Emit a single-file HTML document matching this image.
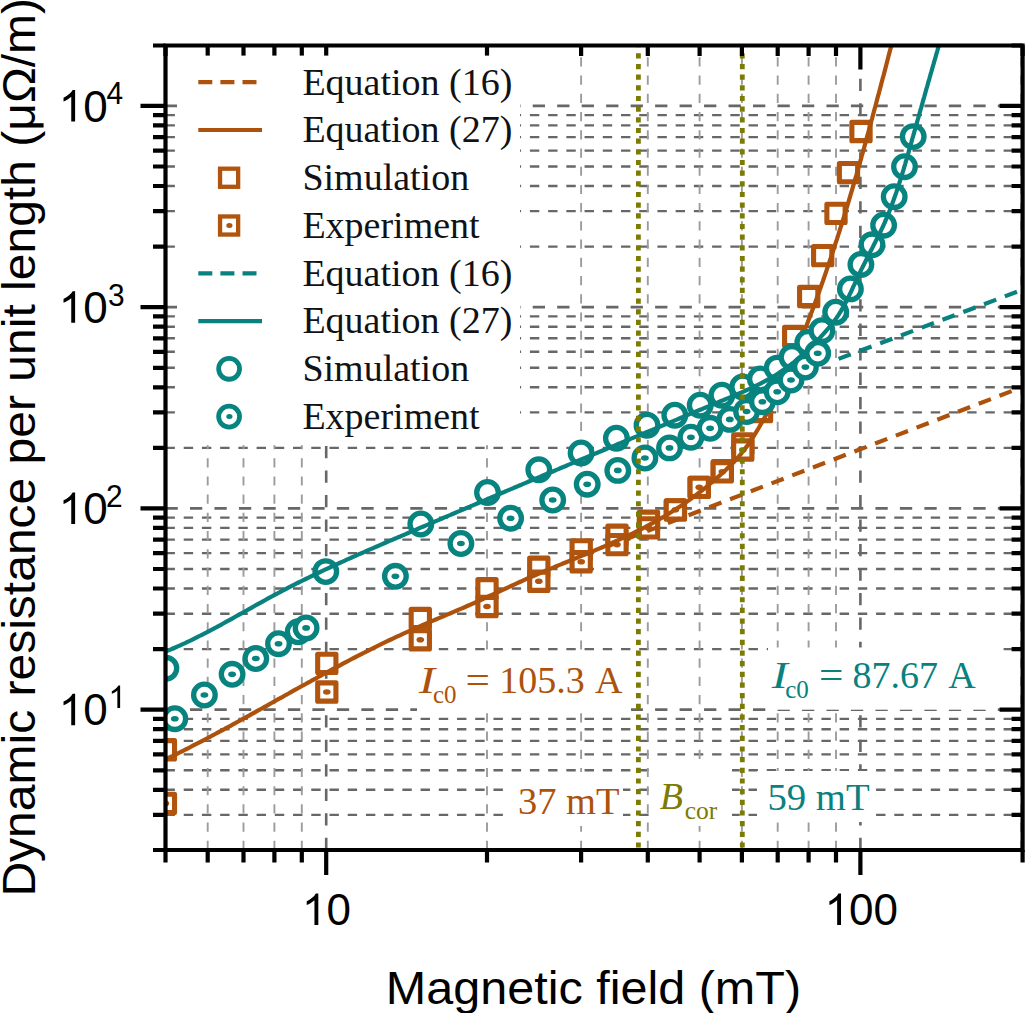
<!DOCTYPE html><html><head><meta charset="utf-8"><style>html,body{margin:0;padding:0;background:#fff;overflow:hidden}svg{display:block}</style></head><body>
<svg width="1025" height="1013" viewBox="0 0 1025 1013">
<defs><clipPath id="pc"><rect x="165.5" y="45.5" width="857.1" height="804.5"/></clipPath></defs>
<rect width="1025" height="1013" fill="#fff"/>
<g clip-path="url(#pc)" fill="none">
<line x1="165.5" y1="814.9" x2="1022.6" y2="814.9" stroke="#676767" stroke-width="2.4" stroke-dasharray="9.4 8.82"/>
<line x1="165.5" y1="789.8" x2="1022.6" y2="789.8" stroke="#676767" stroke-width="2.4" stroke-dasharray="9.4 8.82"/>
<line x1="165.5" y1="770.3" x2="1022.6" y2="770.3" stroke="#676767" stroke-width="2.4" stroke-dasharray="9.4 8.82"/>
<line x1="165.5" y1="754.4" x2="1022.6" y2="754.4" stroke="#676767" stroke-width="2.4" stroke-dasharray="9.4 8.82"/>
<line x1="165.5" y1="740.9" x2="1022.6" y2="740.9" stroke="#676767" stroke-width="2.4" stroke-dasharray="9.4 8.82"/>
<line x1="165.5" y1="729.2" x2="1022.6" y2="729.2" stroke="#676767" stroke-width="2.4" stroke-dasharray="9.4 8.82"/>
<line x1="165.5" y1="718.9" x2="1022.6" y2="718.9" stroke="#676767" stroke-width="2.4" stroke-dasharray="9.4 8.82"/>
<line x1="165.5" y1="709.7" x2="1022.6" y2="709.7" stroke="#676767" stroke-width="2.8" stroke-dasharray="12.3 12.18"/>
<line x1="165.5" y1="649.1" x2="1022.6" y2="649.1" stroke="#676767" stroke-width="2.4" stroke-dasharray="9.4 8.82"/>
<line x1="165.5" y1="613.7" x2="1022.6" y2="613.7" stroke="#676767" stroke-width="2.4" stroke-dasharray="9.4 8.82"/>
<line x1="165.5" y1="588.5" x2="1022.6" y2="588.5" stroke="#676767" stroke-width="2.4" stroke-dasharray="9.4 8.82"/>
<line x1="165.5" y1="569.0" x2="1022.6" y2="569.0" stroke="#676767" stroke-width="2.4" stroke-dasharray="9.4 8.82"/>
<line x1="165.5" y1="553.1" x2="1022.6" y2="553.1" stroke="#676767" stroke-width="2.4" stroke-dasharray="9.4 8.82"/>
<line x1="165.5" y1="539.6" x2="1022.6" y2="539.6" stroke="#676767" stroke-width="2.4" stroke-dasharray="9.4 8.82"/>
<line x1="165.5" y1="527.9" x2="1022.6" y2="527.9" stroke="#676767" stroke-width="2.4" stroke-dasharray="9.4 8.82"/>
<line x1="165.5" y1="517.6" x2="1022.6" y2="517.6" stroke="#676767" stroke-width="2.4" stroke-dasharray="9.4 8.82"/>
<line x1="165.5" y1="508.4" x2="1022.6" y2="508.4" stroke="#676767" stroke-width="2.8" stroke-dasharray="12.3 12.18"/>
<line x1="165.5" y1="447.9" x2="1022.6" y2="447.9" stroke="#676767" stroke-width="2.4" stroke-dasharray="9.4 8.82"/>
<line x1="165.5" y1="412.4" x2="1022.6" y2="412.4" stroke="#676767" stroke-width="2.4" stroke-dasharray="9.4 8.82"/>
<line x1="165.5" y1="387.3" x2="1022.6" y2="387.3" stroke="#676767" stroke-width="2.4" stroke-dasharray="9.4 8.82"/>
<line x1="165.5" y1="367.8" x2="1022.6" y2="367.8" stroke="#676767" stroke-width="2.4" stroke-dasharray="9.4 8.82"/>
<line x1="165.5" y1="351.8" x2="1022.6" y2="351.8" stroke="#676767" stroke-width="2.4" stroke-dasharray="9.4 8.82"/>
<line x1="165.5" y1="338.3" x2="1022.6" y2="338.3" stroke="#676767" stroke-width="2.4" stroke-dasharray="9.4 8.82"/>
<line x1="165.5" y1="326.7" x2="1022.6" y2="326.7" stroke="#676767" stroke-width="2.4" stroke-dasharray="9.4 8.82"/>
<line x1="165.5" y1="316.4" x2="1022.6" y2="316.4" stroke="#676767" stroke-width="2.4" stroke-dasharray="9.4 8.82"/>
<line x1="165.5" y1="307.2" x2="1022.6" y2="307.2" stroke="#676767" stroke-width="2.8" stroke-dasharray="12.3 12.18"/>
<line x1="165.5" y1="246.6" x2="1022.6" y2="246.6" stroke="#676767" stroke-width="2.4" stroke-dasharray="9.4 8.82"/>
<line x1="165.5" y1="211.1" x2="1022.6" y2="211.1" stroke="#676767" stroke-width="2.4" stroke-dasharray="9.4 8.82"/>
<line x1="165.5" y1="186.0" x2="1022.6" y2="186.0" stroke="#676767" stroke-width="2.4" stroke-dasharray="9.4 8.82"/>
<line x1="165.5" y1="166.5" x2="1022.6" y2="166.5" stroke="#676767" stroke-width="2.4" stroke-dasharray="9.4 8.82"/>
<line x1="165.5" y1="150.6" x2="1022.6" y2="150.6" stroke="#676767" stroke-width="2.4" stroke-dasharray="9.4 8.82"/>
<line x1="165.5" y1="137.1" x2="1022.6" y2="137.1" stroke="#676767" stroke-width="2.4" stroke-dasharray="9.4 8.82"/>
<line x1="165.5" y1="125.4" x2="1022.6" y2="125.4" stroke="#676767" stroke-width="2.4" stroke-dasharray="9.4 8.82"/>
<line x1="165.5" y1="115.1" x2="1022.6" y2="115.1" stroke="#676767" stroke-width="2.4" stroke-dasharray="9.4 8.82"/>
<line x1="165.5" y1="105.9" x2="1022.6" y2="105.9" stroke="#676767" stroke-width="2.8" stroke-dasharray="12.3 12.18"/>
<line x1="207.7" y1="850.0" x2="207.7" y2="45.5" stroke="#9c9c9c" stroke-width="1.9" stroke-dasharray="9.2 9.02"/>
<line x1="243.5" y1="850.0" x2="243.5" y2="45.5" stroke="#9c9c9c" stroke-width="1.9" stroke-dasharray="9.2 9.02"/>
<line x1="274.4" y1="850.0" x2="274.4" y2="45.5" stroke="#9c9c9c" stroke-width="1.9" stroke-dasharray="9.2 9.02"/>
<line x1="301.8" y1="850.0" x2="301.8" y2="45.5" stroke="#9c9c9c" stroke-width="1.9" stroke-dasharray="9.2 9.02"/>
<line x1="326.2" y1="850.0" x2="326.2" y2="45.5" stroke="#676767" stroke-width="2.6" stroke-dasharray="12.3 12.18"/>
<line x1="487.0" y1="850.0" x2="487.0" y2="45.5" stroke="#9c9c9c" stroke-width="1.9" stroke-dasharray="9.2 9.02"/>
<line x1="581.1" y1="850.0" x2="581.1" y2="45.5" stroke="#9c9c9c" stroke-width="1.9" stroke-dasharray="9.2 9.02"/>
<line x1="647.8" y1="850.0" x2="647.8" y2="45.5" stroke="#9c9c9c" stroke-width="1.9" stroke-dasharray="9.2 9.02"/>
<line x1="699.6" y1="850.0" x2="699.6" y2="45.5" stroke="#9c9c9c" stroke-width="1.9" stroke-dasharray="9.2 9.02"/>
<line x1="741.9" y1="850.0" x2="741.9" y2="45.5" stroke="#9c9c9c" stroke-width="1.9" stroke-dasharray="9.2 9.02"/>
<line x1="777.7" y1="850.0" x2="777.7" y2="45.5" stroke="#9c9c9c" stroke-width="1.9" stroke-dasharray="9.2 9.02"/>
<line x1="808.6" y1="850.0" x2="808.6" y2="45.5" stroke="#9c9c9c" stroke-width="1.9" stroke-dasharray="9.2 9.02"/>
<line x1="836.0" y1="850.0" x2="836.0" y2="45.5" stroke="#9c9c9c" stroke-width="1.9" stroke-dasharray="9.2 9.02"/>
<line x1="860.4" y1="850.0" x2="860.4" y2="45.5" stroke="#676767" stroke-width="2.6" stroke-dasharray="12.3 12.18"/>
<line x1="1021.2" y1="850.0" x2="1021.2" y2="45.5" stroke="#9c9c9c" stroke-width="1.9" stroke-dasharray="9.2 9.02"/>
</g>
<rect x="417" y="651" width="214" height="61" fill="#fff"/>
<rect x="768" y="647.5" width="229" height="62.2" fill="#fff"/>
<rect x="503" y="772" width="120" height="54" fill="#fff"/>
<rect x="652" y="764" width="80" height="62" fill="#fff"/>
<rect x="757" y="771" width="111" height="51" fill="#fff"/>
<g clip-path="url(#pc)" fill="none" stroke-linejoin="round">
<rect x="156.28" y="740.67" width="18.25" height="18.25" fill="#fff" stroke="#b0540e" stroke-width="5.1"/>
<rect x="317.68" y="654.27" width="18.25" height="18.25" fill="#fff" stroke="#b0540e" stroke-width="5.1"/>
<rect x="411.18" y="609.38" width="18.25" height="18.25" fill="#fff" stroke="#b0540e" stroke-width="5.1"/>
<rect x="477.88" y="579.58" width="18.25" height="18.25" fill="#fff" stroke="#b0540e" stroke-width="5.1"/>
<rect x="529.67" y="558.08" width="18.25" height="18.25" fill="#fff" stroke="#b0540e" stroke-width="5.1"/>
<rect x="572.08" y="540.77" width="18.25" height="18.25" fill="#fff" stroke="#b0540e" stroke-width="5.1"/>
<rect x="607.88" y="526.17" width="18.25" height="18.25" fill="#fff" stroke="#b0540e" stroke-width="5.1"/>
<rect x="639.38" y="512.17" width="18.25" height="18.25" fill="#fff" stroke="#b0540e" stroke-width="5.1"/>
<rect x="666.27" y="500.68" width="18.25" height="18.25" fill="#fff" stroke="#b0540e" stroke-width="5.1"/>
<rect x="690.08" y="478.18" width="18.25" height="18.25" fill="#fff" stroke="#b0540e" stroke-width="5.1"/>
<rect x="713.17" y="461.48" width="18.25" height="18.25" fill="#fff" stroke="#b0540e" stroke-width="5.1"/>
<rect x="733.67" y="434.68" width="18.25" height="18.25" fill="#fff" stroke="#b0540e" stroke-width="5.1"/>
<rect x="752.38" y="402.38" width="18.25" height="18.25" fill="#fff" stroke="#b0540e" stroke-width="5.1"/>
<rect x="768.58" y="368.88" width="18.25" height="18.25" fill="#fff" stroke="#b0540e" stroke-width="5.1"/>
<rect x="784.58" y="327.38" width="18.25" height="18.25" fill="#fff" stroke="#b0540e" stroke-width="5.1"/>
<rect x="799.58" y="287.38" width="18.25" height="18.25" fill="#fff" stroke="#b0540e" stroke-width="5.1"/>
<rect x="813.58" y="246.57" width="18.25" height="18.25" fill="#fff" stroke="#b0540e" stroke-width="5.1"/>
<rect x="826.88" y="204.18" width="18.25" height="18.25" fill="#fff" stroke="#b0540e" stroke-width="5.1"/>
<rect x="839.38" y="163.57" width="18.25" height="18.25" fill="#fff" stroke="#b0540e" stroke-width="5.1"/>
<rect x="851.88" y="122.38" width="18.25" height="18.25" fill="#fff" stroke="#b0540e" stroke-width="5.1"/>
<rect x="156.28" y="794.27" width="18.25" height="18.25" fill="#fff" stroke="#b0540e" stroke-width="5.1"/>
<ellipse cx="165.4" cy="803.4" rx="3.8" ry="2.8" fill="#b0540e" stroke="none"/>
<rect x="317.68" y="682.88" width="18.25" height="18.25" fill="#fff" stroke="#b0540e" stroke-width="5.1"/>
<ellipse cx="326.8" cy="692.0" rx="3.8" ry="2.8" fill="#b0540e" stroke="none"/>
<rect x="411.18" y="630.67" width="18.25" height="18.25" fill="#fff" stroke="#b0540e" stroke-width="5.1"/>
<ellipse cx="420.3" cy="639.8" rx="3.8" ry="2.8" fill="#b0540e" stroke="none"/>
<rect x="477.88" y="597.38" width="18.25" height="18.25" fill="#fff" stroke="#b0540e" stroke-width="5.1"/>
<ellipse cx="487.0" cy="606.5" rx="3.8" ry="2.8" fill="#b0540e" stroke="none"/>
<rect x="529.67" y="572.17" width="18.25" height="18.25" fill="#fff" stroke="#b0540e" stroke-width="5.1"/>
<ellipse cx="538.8" cy="581.3" rx="3.8" ry="2.8" fill="#b0540e" stroke="none"/>
<rect x="572.08" y="552.67" width="18.25" height="18.25" fill="#fff" stroke="#b0540e" stroke-width="5.1"/>
<ellipse cx="581.2" cy="561.8" rx="3.8" ry="2.8" fill="#b0540e" stroke="none"/>
<rect x="607.88" y="535.48" width="18.25" height="18.25" fill="#fff" stroke="#b0540e" stroke-width="5.1"/>
<ellipse cx="617.0" cy="544.6" rx="3.8" ry="2.8" fill="#b0540e" stroke="none"/>
<rect x="639.38" y="518.77" width="18.25" height="18.25" fill="#fff" stroke="#b0540e" stroke-width="5.1"/>
<ellipse cx="648.5" cy="527.9" rx="3.8" ry="2.8" fill="#b0540e" stroke="none"/>
<rect x="666.27" y="500.68" width="18.25" height="18.25" fill="#fff" stroke="#b0540e" stroke-width="5.1"/>
<ellipse cx="675.4" cy="509.8" rx="3.8" ry="2.8" fill="#b0540e" stroke="none"/>
<rect x="690.08" y="478.18" width="18.25" height="18.25" fill="#fff" stroke="#b0540e" stroke-width="5.1"/>
<ellipse cx="699.2" cy="487.3" rx="3.8" ry="2.8" fill="#b0540e" stroke="none"/>
<rect x="713.17" y="462.68" width="18.25" height="18.25" fill="#fff" stroke="#b0540e" stroke-width="5.1"/>
<ellipse cx="722.3" cy="471.8" rx="3.8" ry="2.8" fill="#b0540e" stroke="none"/>
<rect x="733.67" y="440.88" width="18.25" height="18.25" fill="#fff" stroke="#b0540e" stroke-width="5.1"/>
<ellipse cx="742.8" cy="450.0" rx="3.8" ry="2.8" fill="#b0540e" stroke="none"/>
<path d="M600.0,549.2 L1030.0,384.1" stroke="#ad520c" stroke-width="4.2" stroke-dasharray="13 9.2" stroke-dashoffset="16.1"/>
<path d="M157.9,763.0 L160.4,761.8 L162.9,760.6 L165.4,759.4 L167.9,758.2 L170.5,757.0 L173.0,755.8 L175.5,754.5 L178.0,753.3 L180.5,752.0 L183.0,750.8 L185.5,749.5 L188.0,748.3 L190.5,747.0 L192.9,745.7 L195.4,744.4 L197.9,743.2 L200.4,741.9 L202.9,740.6 L205.3,739.3 L207.8,738.0 L210.3,736.7 L212.7,735.3 L215.2,734.0 L217.7,732.7 L220.1,731.4 L222.6,730.1 L225.0,728.7 L227.5,727.4 L230.0,726.1 L232.4,724.7 L234.9,723.4 L237.3,722.0 L239.8,720.7 L242.2,719.3 L244.7,718.0 L247.1,716.6 L249.5,715.3 L252.0,713.9 L254.4,712.6 L256.9,711.2 L259.3,709.8 L261.8,708.5 L264.2,707.1 L266.6,705.8 L269.1,704.4 L271.5,703.0 L274.0,701.7 L276.4,700.3 L278.8,698.9 L281.3,697.6 L283.7,696.2 L286.1,694.8 L288.6,693.5 L291.0,692.1 L293.5,690.7 L295.9,689.4 L298.4,688.0 L300.8,686.7 L303.2,685.3 L305.7,684.0 L308.1,682.6 L310.6,681.3 L313.0,679.9 L315.5,678.6 L317.9,677.2 L320.4,675.9 L322.8,674.5 L325.3,673.2 L327.7,671.9 L330.2,670.5 L332.6,669.2 L335.1,667.9 L337.6,666.6 L340.0,665.3 L342.5,663.9 L344.9,662.6 L347.4,661.3 L349.9,660.0 L352.4,658.7 L354.8,657.5 L357.3,656.2 L359.8,654.9 L362.3,653.6 L364.8,652.4 L367.3,651.1 L369.7,649.8 L372.2,648.6 L374.7,647.3 L377.2,646.1 L379.7,644.9 L382.2,643.6 L384.8,642.4 L387.3,641.2 L389.8,640.0 L392.3,638.8 L394.8,637.6 L397.4,636.4 L399.9,635.3 L402.4,634.1 L405.0,632.9 L407.5,631.8 L410.1,630.6 L412.6,629.5 L415.2,628.4 L417.7,627.2 L420.3,626.1 L422.8,625.0 L425.4,623.9 L428.0,622.8 L430.5,621.7 L433.1,620.6 L435.7,619.5 L438.3,618.4 L440.8,617.3 L443.4,616.2 L446.0,615.1 L448.5,614.1 L451.1,613.0 L453.7,611.9 L456.3,610.8 L458.8,609.7 L461.4,608.6 L464.0,607.5 L466.5,606.3 L469.1,605.2 L471.6,604.1 L474.2,603.0 L476.7,601.8 L479.3,600.7 L481.8,599.5 L484.4,598.4 L486.9,597.2 L489.4,596.0 L492.0,594.8 L494.5,593.7 L497.0,592.5 L499.6,591.3 L502.1,590.1 L504.6,589.0 L507.1,587.8 L509.7,586.6 L512.2,585.4 L514.7,584.3 L517.3,583.1 L519.8,582.0 L522.4,580.8 L524.9,579.7 L527.5,578.5 L530.0,577.4 L532.6,576.3 L535.2,575.2 L537.7,574.1 L540.3,573.0 L542.9,571.9 L545.5,570.8 L548.1,569.7 L550.6,568.6 L553.2,567.6 L555.8,566.5 L558.4,565.4 L561.0,564.4 L563.6,563.3 L566.2,562.2 L568.7,561.2 L571.3,560.1 L573.9,559.0 L576.5,558.0 L579.1,556.9 L581.7,555.8 L584.3,554.8 L586.9,553.7 L589.4,552.6 L592.0,551.5 L594.6,550.5 L597.2,549.4 L599.7,548.3 L602.3,547.2 L604.9,546.1 L607.4,544.9 L610.0,543.8 L612.5,542.7 L615.1,541.5 L617.6,540.4 L620.2,539.2 L622.7,538.1 L625.2,536.9 L627.7,535.7 L630.3,534.5 L632.8,533.3 L635.3,532.0 L637.8,530.8 L640.2,529.6 L642.7,528.3 L645.2,527.0 L647.7,525.7 L650.1,524.4 L652.6,523.1 L655.0,521.7 L657.4,520.4 L659.8,519.0 L662.2,517.6 L664.6,516.2 L667.0,514.7 L669.4,513.3 L671.8,511.8 L674.1,510.3 L676.5,508.8 L678.8,507.2 L681.1,505.7 L683.4,504.1 L685.7,502.5 L688.0,500.9 L690.3,499.2 L692.6,497.6 L694.8,495.9 L697.1,494.2 L699.3,492.5 L701.5,490.8 L703.7,489.0 L705.9,487.3 L708.1,485.5 L710.2,483.7 L712.4,481.9 L714.5,480.1 L716.6,478.2 L718.7,476.4 L720.8,474.5 L722.9,472.6 L725.0,470.7 L727.0,468.8 L729.0,466.8 L731.0,464.9 L732.9,462.9 L734.9,460.9 L736.7,458.8 L738.6,456.7 L740.4,454.6 L742.1,452.5 L743.9,450.3 L745.5,448.1 L747.2,445.9 L748.8,443.7 L750.3,441.4 L751.8,439.1 L753.3,436.8 L754.8,434.4 L756.2,432.1 L757.7,429.7 L759.1,427.3 L760.4,424.9 L761.8,422.5 L763.2,420.1 L764.5,417.7 L765.9,415.2 L767.2,412.8 L768.5,410.3 L769.8,407.9 L771.1,405.4 L772.3,402.9 L773.6,400.4 L774.9,397.9 L776.1,395.4 L777.3,392.9 L778.6,390.4 L779.8,387.9 L781.0,385.4 L782.2,382.8 L783.3,380.3 L784.5,377.8 L785.7,375.2 L786.8,372.6 L788.0,370.1 L789.1,367.5 L790.2,365.0 L791.4,362.4 L792.5,359.8 L793.6,357.2 L794.7,354.6 L795.8,352.1 L796.8,349.5 L797.9,346.9 L799.0,344.3 L800.0,341.7 L801.1,339.1 L802.1,336.5 L803.2,333.9 L804.2,331.3 L805.2,328.6 L806.3,326.0 L807.3,323.4 L808.3,320.8 L809.3,318.2 L810.3,315.6 L811.3,313.0 L812.3,310.3 L813.3,307.7 L814.2,305.1 L815.2,302.5 L816.2,299.8 L817.1,297.2 L818.1,294.6 L819.0,291.9 L820.0,289.3 L820.9,286.7 L821.8,284.0 L822.8,281.4 L823.7,278.8 L824.6,276.1 L825.5,273.5 L826.4,270.9 L827.3,268.2 L828.2,265.6 L829.1,262.9 L830.0,260.3 L830.9,257.6 L831.8,255.0 L832.6,252.3 L833.5,249.7 L834.4,247.0 L835.2,244.4 L836.1,241.7 L837.0,239.1 L837.8,236.4 L838.7,233.7 L839.5,231.1 L840.3,228.4 L841.2,225.8 L842.0,223.1 L842.8,220.4 L843.7,217.8 L844.5,215.1 L845.3,212.4 L846.1,209.8 L846.9,207.1 L847.7,204.4 L848.5,201.8 L849.3,199.1 L850.1,196.4 L850.9,193.7 L851.7,191.1 L852.5,188.4 L853.3,185.7 L854.0,183.0 L854.8,180.4 L855.6,177.7 L856.4,175.0 L857.1,172.3 L857.9,169.6 L858.7,166.9 L859.4,164.3 L860.2,161.6 L861.0,158.9 L861.7,156.2 L862.5,153.5 L863.2,150.8 L864.0,148.1 L864.7,145.5 L865.5,142.8 L866.2,140.1 L866.9,137.4 L867.7,134.7 L868.4,132.0 L869.1,129.3 L869.9,126.6 L870.6,123.9 L871.3,121.2 L872.1,118.5 L872.8,115.8 L873.5,113.1 L874.2,110.4 L875.0,107.7 L875.7,105.0 L876.4,102.3 L877.1,99.6 L877.8,96.9 L878.6,94.2 L879.3,91.5 L880.0,88.8 L880.7,86.1 L881.4,83.4 L882.1,80.7 L882.8,78.0 L883.6,75.3 L884.3,72.6 L885.0,69.9 L885.7,67.2 L886.4,64.5 L887.1,61.7 L887.8,59.0 L888.5,56.3 L889.2,53.6 L889.9,50.9 L890.7,48.2 L891.4,45.5 L892.1,42.8 L892.8,40.1 L893.5,37.4 L894.2,34.6 L894.9,31.9" stroke="#ad520c" stroke-width="4.2"/>
<path d="M838.6,358.9 L1030.0,286.9" stroke="#08817f" stroke-width="4.2" stroke-dasharray="13 9.2"/>
<circle cx="165.9" cy="668.3" r="10.8" fill="#fff" stroke="#07847f" stroke-width="5.3"/>
<circle cx="325.8" cy="571.6" r="10.8" fill="#fff" stroke="#07847f" stroke-width="5.3"/>
<circle cx="420.8" cy="524.0" r="10.8" fill="#fff" stroke="#07847f" stroke-width="5.3"/>
<circle cx="487.5" cy="492.5" r="10.8" fill="#fff" stroke="#07847f" stroke-width="5.3"/>
<circle cx="538.8" cy="469.8" r="10.8" fill="#fff" stroke="#07847f" stroke-width="5.3"/>
<circle cx="581.1" cy="453.0" r="10.8" fill="#fff" stroke="#07847f" stroke-width="5.3"/>
<circle cx="616.4" cy="438.2" r="10.8" fill="#fff" stroke="#07847f" stroke-width="5.3"/>
<circle cx="647.0" cy="425.2" r="10.8" fill="#fff" stroke="#07847f" stroke-width="5.3"/>
<circle cx="674.8" cy="415.2" r="10.8" fill="#fff" stroke="#07847f" stroke-width="5.3"/>
<circle cx="700.2" cy="405.2" r="10.8" fill="#fff" stroke="#07847f" stroke-width="5.3"/>
<circle cx="721.9" cy="395.2" r="10.8" fill="#fff" stroke="#07847f" stroke-width="5.3"/>
<circle cx="742.7" cy="386.9" r="10.8" fill="#fff" stroke="#07847f" stroke-width="5.3"/>
<circle cx="760.4" cy="379.0" r="10.8" fill="#fff" stroke="#07847f" stroke-width="5.3"/>
<circle cx="777.2" cy="368.1" r="10.8" fill="#fff" stroke="#07847f" stroke-width="5.3"/>
<circle cx="792.0" cy="357.3" r="10.8" fill="#fff" stroke="#07847f" stroke-width="5.3"/>
<circle cx="807.8" cy="342.4" r="10.8" fill="#fff" stroke="#07847f" stroke-width="5.3"/>
<circle cx="821.9" cy="330.7" r="10.8" fill="#fff" stroke="#07847f" stroke-width="5.3"/>
<circle cx="835.7" cy="312.2" r="10.8" fill="#fff" stroke="#07847f" stroke-width="5.3"/>
<circle cx="850.4" cy="288.9" r="10.8" fill="#fff" stroke="#07847f" stroke-width="5.3"/>
<circle cx="860.9" cy="264.5" r="10.8" fill="#fff" stroke="#07847f" stroke-width="5.3"/>
<circle cx="872.0" cy="244.8" r="10.8" fill="#fff" stroke="#07847f" stroke-width="5.3"/>
<circle cx="883.6" cy="225.2" r="10.8" fill="#fff" stroke="#07847f" stroke-width="5.3"/>
<circle cx="894.2" cy="196.7" r="10.8" fill="#fff" stroke="#07847f" stroke-width="5.3"/>
<circle cx="904.5" cy="166.7" r="10.8" fill="#fff" stroke="#07847f" stroke-width="5.3"/>
<circle cx="913.2" cy="136.6" r="10.8" fill="#fff" stroke="#07847f" stroke-width="5.3"/>
<circle cx="174.8" cy="718.7" r="10.8" fill="#fff" stroke="#07847f" stroke-width="5.3"/>
<ellipse cx="174.8" cy="718.7" rx="3.9" ry="2.8" fill="#07847f" stroke="none"/>
<circle cx="204.4" cy="695.0" r="10.8" fill="#fff" stroke="#07847f" stroke-width="5.3"/>
<ellipse cx="204.4" cy="695.0" rx="3.9" ry="2.8" fill="#07847f" stroke="none"/>
<circle cx="232.1" cy="674.3" r="10.8" fill="#fff" stroke="#07847f" stroke-width="5.3"/>
<ellipse cx="232.1" cy="674.3" rx="3.9" ry="2.8" fill="#07847f" stroke="none"/>
<circle cx="255.8" cy="658.5" r="10.8" fill="#fff" stroke="#07847f" stroke-width="5.3"/>
<ellipse cx="255.8" cy="658.5" rx="3.9" ry="2.8" fill="#07847f" stroke="none"/>
<circle cx="278.5" cy="643.7" r="10.8" fill="#fff" stroke="#07847f" stroke-width="5.3"/>
<ellipse cx="278.5" cy="643.7" rx="3.9" ry="2.8" fill="#07847f" stroke="none"/>
<circle cx="298.2" cy="631.8" r="10.8" fill="#fff" stroke="#07847f" stroke-width="5.3"/>
<ellipse cx="298.2" cy="631.8" rx="3.9" ry="2.8" fill="#07847f" stroke="none"/>
<circle cx="306.1" cy="627.9" r="10.8" fill="#fff" stroke="#07847f" stroke-width="5.3"/>
<ellipse cx="306.1" cy="627.9" rx="3.9" ry="2.8" fill="#07847f" stroke="none"/>
<circle cx="395.4" cy="576.3" r="10.8" fill="#fff" stroke="#07847f" stroke-width="5.3"/>
<ellipse cx="395.4" cy="576.3" rx="3.9" ry="2.8" fill="#07847f" stroke="none"/>
<circle cx="460.9" cy="543.5" r="10.8" fill="#fff" stroke="#07847f" stroke-width="5.3"/>
<ellipse cx="460.9" cy="543.5" rx="3.9" ry="2.8" fill="#07847f" stroke="none"/>
<circle cx="510.6" cy="518.2" r="10.8" fill="#fff" stroke="#07847f" stroke-width="5.3"/>
<ellipse cx="510.6" cy="518.2" rx="3.9" ry="2.8" fill="#07847f" stroke="none"/>
<circle cx="552.7" cy="500.0" r="10.8" fill="#fff" stroke="#07847f" stroke-width="5.3"/>
<ellipse cx="552.7" cy="500.0" rx="3.9" ry="2.8" fill="#07847f" stroke="none"/>
<circle cx="587.2" cy="484.2" r="10.8" fill="#fff" stroke="#07847f" stroke-width="5.3"/>
<ellipse cx="587.2" cy="484.2" rx="3.9" ry="2.8" fill="#07847f" stroke="none"/>
<circle cx="617.8" cy="470.4" r="10.8" fill="#fff" stroke="#07847f" stroke-width="5.3"/>
<ellipse cx="617.8" cy="470.4" rx="3.9" ry="2.8" fill="#07847f" stroke="none"/>
<circle cx="644.9" cy="458.0" r="10.8" fill="#fff" stroke="#07847f" stroke-width="5.3"/>
<ellipse cx="644.9" cy="458.0" rx="3.9" ry="2.8" fill="#07847f" stroke="none"/>
<circle cx="669.5" cy="447.9" r="10.8" fill="#fff" stroke="#07847f" stroke-width="5.3"/>
<ellipse cx="669.5" cy="447.9" rx="3.9" ry="2.8" fill="#07847f" stroke="none"/>
<circle cx="690.9" cy="437.2" r="10.8" fill="#fff" stroke="#07847f" stroke-width="5.3"/>
<ellipse cx="690.9" cy="437.2" rx="3.9" ry="2.8" fill="#07847f" stroke="none"/>
<circle cx="710.1" cy="428.3" r="10.8" fill="#fff" stroke="#07847f" stroke-width="5.3"/>
<ellipse cx="710.1" cy="428.3" rx="3.9" ry="2.8" fill="#07847f" stroke="none"/>
<circle cx="729.8" cy="419.4" r="10.8" fill="#fff" stroke="#07847f" stroke-width="5.3"/>
<ellipse cx="729.8" cy="419.4" rx="3.9" ry="2.8" fill="#07847f" stroke="none"/>
<circle cx="746.6" cy="411.5" r="10.8" fill="#fff" stroke="#07847f" stroke-width="5.3"/>
<ellipse cx="746.6" cy="411.5" rx="3.9" ry="2.8" fill="#07847f" stroke="none"/>
<circle cx="762.4" cy="401.7" r="10.8" fill="#fff" stroke="#07847f" stroke-width="5.3"/>
<ellipse cx="762.4" cy="401.7" rx="3.9" ry="2.8" fill="#07847f" stroke="none"/>
<circle cx="777.2" cy="391.8" r="10.8" fill="#fff" stroke="#07847f" stroke-width="5.3"/>
<ellipse cx="777.2" cy="391.8" rx="3.9" ry="2.8" fill="#07847f" stroke="none"/>
<circle cx="791.0" cy="380.0" r="10.8" fill="#fff" stroke="#07847f" stroke-width="5.3"/>
<ellipse cx="791.0" cy="380.0" rx="3.9" ry="2.8" fill="#07847f" stroke="none"/>
<circle cx="805.4" cy="367.1" r="10.8" fill="#fff" stroke="#07847f" stroke-width="5.3"/>
<ellipse cx="805.4" cy="367.1" rx="3.9" ry="2.8" fill="#07847f" stroke="none"/>
<circle cx="817.7" cy="353.3" r="10.8" fill="#fff" stroke="#07847f" stroke-width="5.3"/>
<ellipse cx="817.7" cy="353.3" rx="3.9" ry="2.8" fill="#07847f" stroke="none"/>
<path d="M157.9,654.5 L160.5,653.6 L163.0,652.6 L165.5,651.6 L167.9,650.6 L170.4,649.6 L172.9,648.5 L175.3,647.5 L177.8,646.4 L180.2,645.3 L182.7,644.2 L185.1,643.1 L187.5,641.9 L189.9,640.8 L192.4,639.6 L194.8,638.4 L197.2,637.2 L199.5,636.0 L201.9,634.8 L204.3,633.6 L206.7,632.4 L209.1,631.1 L211.4,629.9 L213.8,628.6 L216.2,627.4 L218.5,626.1 L220.9,624.8 L223.2,623.5 L225.6,622.2 L227.9,620.9 L230.3,619.6 L232.6,618.3 L234.9,617.0 L237.3,615.7 L239.6,614.4 L242.0,613.1 L244.3,611.8 L246.6,610.5 L249.0,609.2 L251.3,607.9 L253.6,606.5 L256.0,605.2 L258.3,603.9 L260.7,602.6 L263.0,601.3 L265.3,600.0 L267.7,598.7 L270.0,597.4 L272.4,596.2 L274.7,594.9 L277.1,593.6 L279.5,592.4 L281.8,591.1 L284.2,589.9 L286.6,588.6 L288.9,587.4 L291.3,586.2 L293.7,585.0 L296.1,583.7 L298.5,582.5 L300.9,581.4 L303.3,580.2 L305.7,579.0 L308.1,577.8 L310.5,576.6 L312.9,575.5 L315.3,574.3 L317.7,573.2 L320.1,572.0 L322.5,570.9 L325.0,569.7 L327.4,568.6 L329.8,567.5 L332.2,566.3 L334.7,565.2 L337.1,564.1 L339.5,563.0 L342.0,561.9 L344.4,560.8 L346.8,559.7 L349.3,558.6 L351.7,557.5 L354.2,556.4 L356.6,555.3 L359.1,554.2 L361.5,553.2 L364.0,552.1 L366.4,551.0 L368.9,549.9 L371.3,548.9 L373.8,547.8 L376.2,546.7 L378.7,545.7 L381.1,544.6 L383.6,543.5 L386.0,542.5 L388.5,541.4 L391.0,540.4 L393.4,539.3 L395.9,538.3 L398.3,537.2 L400.8,536.2 L403.3,535.1 L405.7,534.1 L408.2,533.0 L410.6,531.9 L413.1,530.9 L415.6,529.8 L418.0,528.8 L420.5,527.7 L422.9,526.7 L425.4,525.6 L427.9,524.6 L430.3,523.5 L432.8,522.5 L435.2,521.4 L437.7,520.4 L440.2,519.3 L442.6,518.3 L445.1,517.2 L447.5,516.1 L450.0,515.1 L452.5,514.0 L454.9,513.0 L457.4,511.9 L459.9,510.9 L462.3,509.8 L464.8,508.8 L467.2,507.7 L469.7,506.7 L472.2,505.6 L474.6,504.6 L477.1,503.5 L479.5,502.5 L482.0,501.4 L484.5,500.4 L486.9,499.3 L489.4,498.3 L491.8,497.2 L494.3,496.2 L496.8,495.1 L499.2,494.1 L501.7,493.0 L504.2,492.0 L506.6,490.9 L509.1,489.9 L511.5,488.9 L514.0,487.8 L516.5,486.8 L518.9,485.7 L521.4,484.7 L523.9,483.6 L526.3,482.6 L528.8,481.5 L531.2,480.5 L533.7,479.5 L536.2,478.4 L538.6,477.4 L541.1,476.3 L543.6,475.3 L546.0,474.3 L548.5,473.2 L551.0,472.2 L553.4,471.2 L555.9,470.1 L558.4,469.1 L560.8,468.0 L563.3,467.0 L565.8,466.0 L568.2,464.9 L570.7,463.9 L573.1,462.9 L575.6,461.8 L578.1,460.8 L580.5,459.8 L583.0,458.7 L585.5,457.7 L587.9,456.7 L590.4,455.6 L592.9,454.6 L595.3,453.6 L597.8,452.5 L600.3,451.5 L602.7,450.5 L605.2,449.5 L607.7,448.4 L610.1,447.4 L612.6,446.4 L615.1,445.3 L617.5,444.3 L620.0,443.3 L622.5,442.2 L625.0,441.2 L627.4,440.2 L629.9,439.2 L632.4,438.1 L634.8,437.1 L637.3,436.1 L639.8,435.0 L642.2,434.0 L644.7,433.0 L647.2,431.9 L649.6,430.9 L652.1,429.9 L654.6,428.8 L657.0,427.8 L659.5,426.8 L662.0,425.8 L664.4,424.7 L666.9,423.7 L669.4,422.7 L671.9,421.6 L674.3,420.6 L676.8,419.6 L679.3,418.5 L681.7,417.5 L684.2,416.5 L686.7,415.4 L689.1,414.4 L691.6,413.4 L694.1,412.3 L696.5,411.3 L699.0,410.3 L701.5,409.3 L704.0,408.2 L706.4,407.2 L708.9,406.2 L711.4,405.1 L713.8,404.1 L716.3,403.1 L718.8,402.0 L721.2,401.0 L723.7,400.0 L726.2,398.9 L728.7,397.9 L731.1,396.9 L733.6,395.8 L736.0,394.8 L738.5,393.7 L741.0,392.7 L743.4,391.6 L745.8,390.5 L748.3,389.4 L750.7,388.3 L753.1,387.2 L755.5,386.0 L757.9,384.8 L760.3,383.6 L762.6,382.4 L765.0,381.2 L767.3,379.9 L769.7,378.6 L772.0,377.3 L774.2,375.9 L776.5,374.5 L778.8,373.1 L781.0,371.6 L783.2,370.1 L785.4,368.6 L787.6,367.0 L789.7,365.4 L791.9,363.7 L794.0,362.1 L796.1,360.4 L798.1,358.7 L800.2,356.9 L802.2,355.1 L804.2,353.3 L806.2,351.5 L808.2,349.7 L810.1,347.8 L812.1,345.9 L814.0,344.0 L815.9,342.1 L817.7,340.1 L819.6,338.2 L821.4,336.2 L823.2,334.2 L825.0,332.2 L826.7,330.2 L828.5,328.2 L830.2,326.2 L831.8,324.1 L833.5,322.0 L835.0,319.9 L836.6,317.8 L838.1,315.6 L839.5,313.4 L840.9,311.1 L842.2,308.8 L843.5,306.5 L844.8,304.2 L846.1,301.8 L847.3,299.4 L848.5,297.0 L849.6,294.6 L850.8,292.2 L851.9,289.8 L853.0,287.3 L854.2,284.9 L855.3,282.5 L856.4,280.0 L857.6,277.6 L858.7,275.2 L859.8,272.7 L861.0,270.3 L862.2,267.9 L863.4,265.5 L864.6,263.1 L865.8,260.7 L867.0,258.3 L868.2,255.9 L869.4,253.5 L870.6,251.1 L871.9,248.8 L873.1,246.4 L874.3,244.0 L875.5,241.6 L876.7,239.2 L877.9,236.8 L879.1,234.5 L880.3,232.1 L881.4,229.6 L882.6,227.2 L883.7,224.8 L884.8,222.4 L885.8,219.9 L886.9,217.5 L887.9,215.0 L888.9,212.5 L889.9,210.0 L890.8,207.5 L891.8,205.0 L892.7,202.5 L893.6,200.0 L894.5,197.5 L895.4,195.0 L896.3,192.4 L897.1,189.9 L898.0,187.4 L898.8,184.8 L899.6,182.3 L900.4,179.7 L901.2,177.1 L902.0,174.6 L902.8,172.0 L903.6,169.4 L904.3,166.9 L905.1,164.3 L905.8,161.7 L906.6,159.1 L907.3,156.6 L908.1,154.0 L908.8,151.4 L909.5,148.8 L910.3,146.2 L911.0,143.7 L911.7,141.1 L912.4,138.5 L913.2,135.9 L913.9,133.4 L914.6,130.8 L915.4,128.2 L916.1,125.6 L916.8,123.1 L917.5,120.5 L918.3,117.9 L919.0,115.3 L919.7,112.8 L920.4,110.2 L921.2,107.6 L921.9,105.0 L922.6,102.5 L923.3,99.9 L924.1,97.3 L924.8,94.7 L925.5,92.2 L926.2,89.6 L927.0,87.0 L927.7,84.5 L928.4,81.9 L929.2,79.3 L929.9,76.7 L930.6,74.2 L931.4,71.6 L932.1,69.0 L932.8,66.5 L933.6,63.9 L934.3,61.3 L935.1,58.7 L935.8,56.2 L936.5,53.6 L937.3,51.0 L938.0,48.4 L938.8,45.9 L939.5,43.3 L940.3,40.7 L941.1,38.2 L941.8,35.6 L942.6,33.0" stroke="#08817f" stroke-width="4.2"/>
</g>
<line x1="638.4" y1="850.0" x2="638.4" y2="47.5" stroke="#7b7b06" stroke-width="4.8" stroke-dasharray="5.2 5.464" stroke-dashoffset="8.264"/>
<line x1="742.3" y1="850.0" x2="742.3" y2="47.5" stroke="#7b7b06" stroke-width="4.8" stroke-dasharray="5.2 5.464" stroke-dashoffset="8.264"/>
<g stroke="#000" stroke-width="4.2" fill="none" stroke-linecap="butt">
<path d="M165.5,43.4 V852.1 M163.4,850.0 H1024.7 M1022.6,852.1 V43.4 M1024.7,45.5 H163.4"/>
<path d="M153.0,850.0 H165.5 M1022.6,850.0 H1011.6 M153.0,814.9 H165.5 M1022.6,814.9 H1011.6 M153.0,789.8 H165.5 M1022.6,789.8 H1011.6 M153.0,770.3 H165.5 M1022.6,770.3 H1011.6 M153.0,754.4 H165.5 M1022.6,754.4 H1011.6 M153.0,740.9 H165.5 M1022.6,740.9 H1011.6 M153.0,729.2 H165.5 M1022.6,729.2 H1011.6 M153.0,718.9 H165.5 M1022.6,718.9 H1011.6 M140.5,709.7 H165.5 M1022.6,709.7 H999.6 M153.0,649.1 H165.5 M1022.6,649.1 H1011.6 M153.0,613.7 H165.5 M1022.6,613.7 H1011.6 M153.0,588.5 H165.5 M1022.6,588.5 H1011.6 M153.0,569.0 H165.5 M1022.6,569.0 H1011.6 M153.0,553.1 H165.5 M1022.6,553.1 H1011.6 M153.0,539.6 H165.5 M1022.6,539.6 H1011.6 M153.0,527.9 H165.5 M1022.6,527.9 H1011.6 M153.0,517.6 H165.5 M1022.6,517.6 H1011.6 M140.5,508.4 H165.5 M1022.6,508.4 H999.6 M153.0,447.9 H165.5 M1022.6,447.9 H1011.6 M153.0,412.4 H165.5 M1022.6,412.4 H1011.6 M153.0,387.3 H165.5 M1022.6,387.3 H1011.6 M153.0,367.8 H165.5 M1022.6,367.8 H1011.6 M153.0,351.8 H165.5 M1022.6,351.8 H1011.6 M153.0,338.3 H165.5 M1022.6,338.3 H1011.6 M153.0,326.7 H165.5 M1022.6,326.7 H1011.6 M153.0,316.4 H165.5 M1022.6,316.4 H1011.6 M140.5,307.2 H165.5 M1022.6,307.2 H999.6 M153.0,246.6 H165.5 M1022.6,246.6 H1011.6 M153.0,211.1 H165.5 M1022.6,211.1 H1011.6 M153.0,186.0 H165.5 M1022.6,186.0 H1011.6 M153.0,166.5 H165.5 M1022.6,166.5 H1011.6 M153.0,150.6 H165.5 M1022.6,150.6 H1011.6 M153.0,137.1 H165.5 M1022.6,137.1 H1011.6 M153.0,125.4 H165.5 M1022.6,125.4 H1011.6 M153.0,115.1 H165.5 M1022.6,115.1 H1011.6 M140.5,105.9 H165.5 M1022.6,105.9 H999.6 M153.0,45.5 H165.5 M1022.6,45.5 H1011.6 M165.5,850.0 V862.5 M165.5,45.5 V56.0 M207.7,850.0 V862.5 M207.7,45.5 V56.0 M243.5,850.0 V862.5 M243.5,45.5 V56.0 M274.4,850.0 V862.5 M274.4,45.5 V56.0 M301.8,850.0 V862.5 M301.8,45.5 V56.0 M326.2,850.0 V875.0 M326.2,45.5 V69.5 M487.0,850.0 V862.5 M487.0,45.5 V56.0 M581.1,850.0 V862.5 M581.1,45.5 V56.0 M647.8,850.0 V862.5 M647.8,45.5 V56.0 M699.6,850.0 V862.5 M699.6,45.5 V56.0 M741.9,850.0 V862.5 M741.9,45.5 V56.0 M777.7,850.0 V862.5 M777.7,45.5 V56.0 M808.6,850.0 V862.5 M808.6,45.5 V56.0 M836.0,850.0 V862.5 M836.0,45.5 V56.0 M860.4,850.0 V875.0 M860.4,45.5 V69.5 M1022.6,850.0 V862.5 M1022.6,45.5 V56.0"/>
</g>
<g font-family="'Liberation Sans', sans-serif" fill="#000">
<path d="M763 0H583V1147Q518 1085 412.5 1023T223 930V1104Q374 1175 487 1276T647 1472H763V0Z" transform="translate(301.93,925.00) scale(0.02148,-0.02148)"/><text x="326.40" y="925.00" font-size="44">0</text>
<path d="M763 0H583V1147Q518 1085 412.5 1023T223 930V1104Q374 1175 487 1276T647 1472H763V0Z" transform="translate(824.63,925.00) scale(0.02148,-0.02148)"/><text x="849.10" y="925.00" font-size="44">0</text><text x="873.57" y="925.00" font-size="44">0</text>
<path d="M763 0H583V1147Q518 1085 412.5 1023T223 930V1104Q374 1175 487 1276T647 1472H763V0Z" transform="translate(58.73,121.50) scale(0.02148,-0.02148)"/><text x="83.20" y="121.50" font-size="44">0</text>
<text x="106.4" y="104.40" font-size="31.5" textLength="16.6" lengthAdjust="spacingAndGlyphs">4</text>
<path d="M763 0H583V1147Q518 1085 412.5 1023T223 930V1104Q374 1175 487 1276T647 1472H763V0Z" transform="translate(58.73,322.77) scale(0.02148,-0.02148)"/><text x="83.20" y="322.77" font-size="44">0</text>
<text x="107.9" y="305.67" font-size="31.5" textLength="16.6" lengthAdjust="spacingAndGlyphs">3</text>
<path d="M763 0H583V1147Q518 1085 412.5 1023T223 930V1104Q374 1175 487 1276T647 1472H763V0Z" transform="translate(58.73,524.04) scale(0.02148,-0.02148)"/><text x="83.20" y="524.04" font-size="44">0</text>
<text x="106.1" y="506.94" font-size="31.5" textLength="16.6" lengthAdjust="spacingAndGlyphs">2</text>
<path d="M763 0H583V1147Q518 1085 412.5 1023T223 930V1104Q374 1175 487 1276T647 1472H763V0Z" transform="translate(58.73,725.31) scale(0.02148,-0.02148)"/><text x="83.20" y="725.31" font-size="44">0</text>
<path d="M763 0H583V1147Q518 1085 412.5 1023T223 930V1104Q374 1175 487 1276T647 1472H763V0Z" transform="translate(108.39,708.11) scale(0.01538,-0.01538)"/>
<text x="385.8" y="1003.8" font-size="47" textLength="415.3" lengthAdjust="spacingAndGlyphs">Magnetic field (mT)</text>
<text transform="translate(35,896.6) rotate(-90)" x="0" y="0" font-size="46" textLength="898.7" lengthAdjust="spacingAndGlyphs">Dynamic resistance per unit length (μΩ/m)</text>
</g>
<rect x="177" y="55.6" width="343" height="389.6" fill="#fff"/>
<g fill="none">
<path d="M198.3,82.2 H256.6" stroke="#ad520c" stroke-width="4.2" stroke-dasharray="14 8.1"/>
<path d="M198.3,130.0 H262" stroke="#ad520c" stroke-width="4.2"/>
<rect x="220.05" y="168.69" width="18.1" height="18.1" stroke="#b0540e" stroke-width="4.3"/>
<rect x="220.05" y="216.46" width="18.1" height="18.1" stroke="#b0540e" stroke-width="4.3"/>
<ellipse cx="229.4" cy="225.5" rx="3.1" ry="2.5" fill="#b0540e" stroke="none"/>
<path d="M198.3,273.3 H256.6" stroke="#08817f" stroke-width="4.2" stroke-dasharray="14 8.1"/>
<path d="M198.3,321.1 H262" stroke="#08817f" stroke-width="4.2"/>
<circle cx="229.1" cy="368.8" r="10.45" stroke="#07847f" stroke-width="4.8"/>
<circle cx="229.1" cy="416.6" r="10.45" stroke="#07847f" stroke-width="4.8"/>
<ellipse cx="229.4" cy="416.6" rx="3.1" ry="2.5" fill="#07847f" stroke="none"/>
</g>
<g font-family="'Liberation Serif', serif" font-size="38" fill="#111116">
<text x="302.4" y="94.6">Equation (16)</text>
<text x="302.4" y="142.4">Equation (27)</text>
<text x="302.4" y="190.1">Simulation</text>
<text x="302.4" y="237.9">Experiment</text>
<text x="302.4" y="285.7">Equation (16)</text>
<text x="302.4" y="333.4">Equation (27)</text>
<text x="302.4" y="381.2">Simulation</text>
<text x="302.4" y="429.0">Experiment</text>
</g>
<g font-family="'Liberation Serif', serif" fill="#ad520c"><text x="419.0" y="692.6" font-size="38" font-style="italic" textLength="16" lengthAdjust="spacingAndGlyphs">I</text><text x="432.9" y="702.8" font-size="25">c0</text><text x="465.6" y="692.6" font-size="38" textLength="24.4" lengthAdjust="spacingAndGlyphs">=</text><text x="499.3" y="692.6" font-size="38">105.3</text><text x="595.0" y="692.6" font-size="38">A</text></g>
<g font-family="'Liberation Serif', serif" fill="#08817f"><text x="771.8" y="687.7" font-size="38" font-style="italic" textLength="16" lengthAdjust="spacingAndGlyphs">I</text><text x="785.2" y="697.9" font-size="25">c0</text><text x="819.0" y="687.7" font-size="38" textLength="24.4" lengthAdjust="spacingAndGlyphs">=</text><text x="852.5" y="687.7" font-size="38">87.67</text><text x="948.3" y="687.7" font-size="38">A</text></g>
<text font-family="'Liberation Serif', serif" font-size="38" fill="#ad520c" x="518" y="813.8" textLength="101.6" lengthAdjust="spacingAndGlyphs">37 mT</text>
<text font-family="'Liberation Serif', serif" font-size="38" fill="#08817f" x="767.4" y="810" textLength="102.3" lengthAdjust="spacingAndGlyphs">59 mT</text>
<g font-family="'Liberation Serif', serif" fill="#7b7b06"><text x="659.8" y="808.5" font-size="38" font-style="italic">B</text><text x="684.7" y="818.6" font-size="25" textLength="32.5" lengthAdjust="spacingAndGlyphs">cor</text></g>
</svg></body></html>
